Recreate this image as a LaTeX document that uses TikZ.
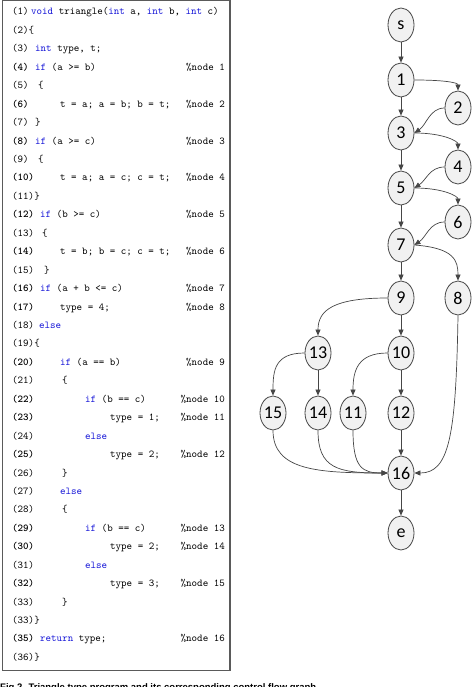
\documentclass[tikz,border=0pt]{standalone}
\usepackage{fontspec}
\newfontfamily\nodefont{Carlito}
\newfontfamily\capfont{Liberation Sans}
\usetikzlibrary{shapes.geometric,arrows.meta}
\definecolor{kwc}{RGB}{20,20,215}
\definecolor{edgec}{RGB}{70,70,70}
\definecolor{nodefill}{RGB}{241,241,241}
\definecolor{boxc}{RGB}{90,90,90}
\newcommand{\kw}[1]{\textcolor{kwc}{#1}}
\tikzset{
  cfg/.style={ellipse, draw=edgec, line width=0.8pt, fill=nodefill,
    minimum width=26pt, minimum height=34pt, inner sep=0pt,
    font=\nodefont\fontsize{18}{18}\selectfont},
  flow/.style={draw=edgec, line width=0.7pt, -{Triangle[length=6pt,width=5pt]}},
  codetext/.style={anchor=base west, inner sep=0pt, font=\ttfamily\fontsize{10.5}{12}\selectfont},
  cmttext/.style={anchor=base east, inner sep=0pt, font=\ttfamily\fontsize{10.5}{12}\selectfont},
  captext/.style={anchor=base west, inner sep=0pt, font=\capfont\bfseries\fontsize{9.5}{11}\selectfont}
}
% index, line label, x of code, code
\newcommand{\cl}[4]{%
  \node[codetext] (num#1) at (12,{15+(#1-1)*18.44}) {#2};
  \node[codetext] (code#1) at (#3,{15+(#1-1)*18.44}) {#4};}
\newcommand{\cln}[2]{%
  \node[codetext] (num#1) at (12,{15+(#1-1)*18.44}) {#2};}
\newcommand{\cm}[2]{%
  \node[cmttext] (cmt#1) at (225,{15+(#1-1)*18.44}) {\%node #2};}
\begin{document}
\begin{tikzpicture}[x=1pt,y=-1pt]
\useasboundingbox (0,0) rectangle (474,687);
% code box
\draw[boxc, line width=1.3pt] (2.5,0.5) rectangle (230,670.5);
\cl{1}{(1)}{31}{\kw{void} triangle(\kw{int} a, \kw{int} b, \kw{int} c)}
\cln{2}{(2)\{}
\cl{3}{(3)}{35}{\kw{int} type, t;}
\cl{4}{\textbf{(4)}}{35}{\kw{if} (a >= b)}\cm{4}{1}
\cl{5}{(5)}{38}{\{}
\cl{6}{\textbf{(6)}}{60}{t = a; a = b; b = t;}\cm{6}{2}
\cl{7}{(7)}{35}{\}}
\cl{8}{\textbf{(8)}}{35}{\kw{if} (a >= c)}\cm{8}{3}
\cl{9}{(9)}{38}{\{}
\cl{10}{\textbf{(10)}}{60}{t = a; a = c; c = t;}\cm{10}{4}
\cln{11}{(11)\}}
\cl{12}{\textbf{(12)}}{40}{\kw{if} (b >= c)}\cm{12}{5}
\cl{13}{(13)}{42}{\{}
\cl{14}{\textbf{(14)}}{60}{t = b; b = c; c = t;}\cm{14}{6}
\cl{15}{(15)}{44}{\}}
\cl{16}{\textbf{(16)}}{40}{\kw{if} (a + b <= c)}\cm{16}{7}
\cl{17}{\textbf{(17)}}{60}{type = 4;}\cm{17}{8}
\cl{18}{(18)}{39}{\kw{else}}
\cln{19}{(19)\{}
\cl{20}{\textbf{(20)}}{60}{\kw{if} (a == b)}\cm{20}{9}
\cl{21}{(21)}{62}{\{}
\cl{22}{\textbf{(22)}}{85}{\kw{if} (b == c)}\cm{22}{10}
\cl{23}{\textbf{(23)}}{110}{type = 1;}\cm{23}{11}
\cl{24}{(24)}{85}{\kw{else}}
\cl{25}{\textbf{(25)}}{110}{type = 2;}\cm{25}{12}
\cl{26}{(26)}{62}{\}}
\cl{27}{(27)}{60}{\kw{else}}
\cl{28}{(28)}{62}{\{}
\cl{29}{\textbf{(29)}}{85}{\kw{if} (b == c)}\cm{29}{13}
\cl{30}{\textbf{(30)}}{110}{type = 2;}\cm{30}{14}
\cl{31}{(31)}{85}{\kw{else}}
\cl{32}{\textbf{(32)}}{110}{type = 3;}\cm{32}{15}
\cl{33}{(33)}{62}{\}}
\cln{34}{(33)\}}
\cl{35}{\textbf{(35)}}{40}{\kw{return} type;}\cm{35}{16}
\cln{36}{(36)\}}
% caption (cut by the page edge, as in the reference)
\node[captext] (caption) at (0,690) {Fig 2. Triangle type program and its corresponding control flow graph.};
% control flow graph
\node[cfg] (ns) at (401,25) {s};
\node[cfg] (n1) at (401,80) {1};
\node[cfg] (n2) at (458,108) {2};
\node[cfg] (n3) at (401,133) {3};
\node[cfg] (n4) at (458,167) {4};
\node[cfg] (n5) at (401,188) {5};
\node[cfg] (n6) at (458,222) {6};
\node[cfg] (n7) at (401,245) {7};
\node[cfg] (n8) at (458,298) {8};
\node[cfg] (n9) at (401,298) {9};
\node[cfg] (n10) at (401,353) {10};
\node[cfg] (n13) at (318,353) {13};
\node[cfg] (n15) at (273,413) {15};
\node[cfg] (n14) at (318,413) {14};
\node[cfg] (n11) at (353,413) {11};
\node[cfg] (n12) at (401,413) {12};
\node[cfg] (n16) at (401,473) {16};
\node[cfg] (ne) at (401,533) {e};
\draw[flow] (ns) -- (n1);
\draw[flow] (n1) -- (n3);
\draw[flow] (n3) -- (n5);
\draw[flow] (n5) -- (n7);
\draw[flow] (n7) -- (n9);
\draw[flow] (n9) -- (n10);
\draw[flow] (n10) -- (n12);
\draw[flow] (n13) -- (n14);
\draw[flow] (n12) -- (n16);
\draw[flow] (n16) -- (ne);
\draw[flow] (n1.east) .. controls +(30,0) and +(0,-8) .. (n2.north);
\draw[flow] (n3.east) .. controls +(30,0) and +(0,-8) .. (n4.north);
\draw[flow] (n5.east) .. controls +(30,0) and +(0,-8) .. (n6.north);
\draw[flow] (n2.west) .. controls +(-15,0) and +(12,-8) .. (n3.east);
\draw[flow] (n4.west) .. controls +(-15,0) and +(12,-8) .. (n5.east);
\draw[flow] (n6.west) .. controls +(-15,0) and +(12,-8) .. (n7.east);
\draw[flow] (n7.east) .. controls +(40,3) and +(0,-20) .. (n8.north);
\draw[flow] (n9.west) .. controls +(-55,0) and +(0,-25) .. (n13.north);
\draw[flow] (n10.west) .. controls +(-30,0) and +(0,-25) .. (n11.north);
\draw[flow] (n13.west) .. controls +(-30,0) and +(0,-25) .. (n15.north);
\draw[flow] (n15.south) .. controls +(0,40) and +(-70,0) .. (n16.west);
\draw[flow] (n14.south) .. controls +(0,38) and +(-50,0) .. (n16.west);
\draw[flow] (n11.south) .. controls +(0,38) and +(-25,0) .. (n16.west);
\draw[flow] (n8.south) .. controls +(-2,120) and +(35,0) .. (n16.east);
\end{tikzpicture}
\end{document}
